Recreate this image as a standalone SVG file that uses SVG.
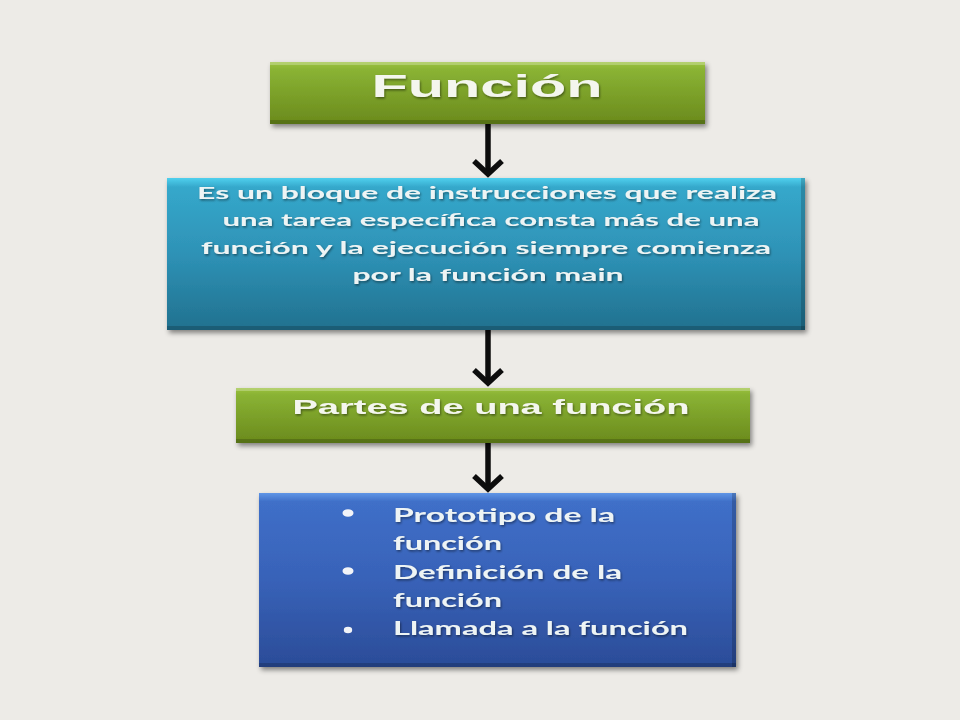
<svg xmlns="http://www.w3.org/2000/svg" width="960" height="720" viewBox="0 0 960 720">
  <defs>
    <linearGradient id="gGreen" x1="0" y1="0" x2="0" y2="1">
      <stop offset="0" stop-color="#9cc23f"/>
      <stop offset="0.12" stop-color="#8ab334"/>
      <stop offset="1" stop-color="#6a8a1c"/>
    </linearGradient>
    <linearGradient id="gTeal" x1="0" y1="0" x2="0" y2="1">
      <stop offset="0" stop-color="#4fd0ee"/>
      <stop offset="0.06" stop-color="#35a8cb"/>
      <stop offset="0.5" stop-color="#2e92b6"/>
      <stop offset="1" stop-color="#21718f"/>
    </linearGradient>
    <linearGradient id="gBlue" x1="0" y1="0" x2="0" y2="1">
      <stop offset="0" stop-color="#5f95e6"/>
      <stop offset="0.05" stop-color="#3f6fc8"/>
      <stop offset="0.5" stop-color="#3862b8"/>
      <stop offset="1" stop-color="#2b4c98"/>
    </linearGradient>
    <filter id="shadow" x="-5%" y="-10%" width="112%" height="130%">
      <feDropShadow dx="2" dy="3" stdDeviation="2.5" flood-color="#000" flood-opacity="0.45"/>
    </filter>
    <filter id="tshadow" x="-5%" y="-20%" width="110%" height="150%">
      <feDropShadow dx="1" dy="1.5" stdDeviation="0.8" flood-color="#000" flood-opacity="0.45"/>
    </filter>
    <marker id="chev" markerUnits="userSpaceOnUse" viewBox="-18 -18 22 36" markerWidth="22" markerHeight="36" refX="0" refY="0" orient="auto">
      <path d="M-13,-14 L0,0 L-13,14" fill="none" stroke="#0d0d0d" stroke-width="5.5" stroke-linejoin="miter"/>
    </marker>
  </defs>
  <style>
    .box { filter: url(#shadow); }
    .hl { fill: #ffffff; opacity: 0.25; }
    .dk { fill: #000000; opacity: 0.18; }
    .title { font-family: "Liberation Sans", Arial, sans-serif; font-weight: bold; fill: #f4f6ee; filter: url(#tshadow); }
    .body { font-family: Lato, "Open Sans", sans-serif; font-weight: bold; fill: #eef4f4; filter: url(#tshadow); }
    .conn { stroke: #0d0d0d; stroke-width: 5.5; fill: none; marker-end: url(#chev); }
    .bullet { fill: #f2f4f8; }
  </style>
  <rect width="960" height="720" fill="#edebe7"/>

  <g id="connectors">
    <path class="conn" d="M488 124 V174"/>
    <path class="conn" d="M488 330 V383"/>
    <path class="conn" d="M488 443 V489"/>
  </g>

  <g id="node-funcion">
    <rect class="box" x="270" y="62" width="435" height="62" fill="url(#gGreen)"/>
    <rect class="hl" x="270" y="62" width="435" height="3"/>
    <rect class="dk" x="270" y="120" width="435" height="4"/>
    <text class="title" x="487" y="97" font-size="31" text-anchor="middle" textLength="231" lengthAdjust="spacingAndGlyphs">Función</text>
  </g>

  <g id="node-definicion">
    <rect class="box" x="167" y="178" width="638" height="152" fill="url(#gTeal)"/>
    <rect class="dk" x="167" y="326" width="638" height="4"/>
    <rect class="dk" x="801" y="178" width="4" height="152"/>
    <g class="body" font-size="17" text-anchor="middle">
      <text x="487" y="199" textLength="580" lengthAdjust="spacingAndGlyphs">Es un bloque de instrucciones que realiza</text>
      <text x="491" y="226" textLength="537" lengthAdjust="spacingAndGlyphs">una tarea específica consta más de una</text>
      <text x="486" y="254" textLength="570" lengthAdjust="spacingAndGlyphs">función y la ejecución siempre comienza</text>
      <text x="488" y="281" textLength="271" lengthAdjust="spacingAndGlyphs">por la función main</text>
    </g>
  </g>

  <g id="node-partes">
    <rect class="box" x="236" y="388" width="514" height="55" fill="url(#gGreen)"/>
    <rect class="hl" x="236" y="388" width="514" height="3"/>
    <rect class="dk" x="236" y="439" width="514" height="4"/>
    <text class="title" x="491" y="414" font-size="21" text-anchor="middle" textLength="397" lengthAdjust="spacingAndGlyphs">Partes de una función</text>
  </g>

  <g id="node-lista">
    <rect class="box" x="259" y="493" width="477" height="174" fill="url(#gBlue)"/>
    <rect class="dk" x="259" y="663" width="477" height="4"/>
    <rect class="dk" x="732" y="493" width="4" height="174"/>
    <ellipse class="bullet" cx="348" cy="513" rx="5.5" ry="3.8"/>
    <ellipse class="bullet" cx="348" cy="571" rx="5.5" ry="3.8"/>
    <ellipse class="bullet" cx="348" cy="630" rx="4.2" ry="3.3"/>
    <g class="body" font-size="19">
      <text x="393" y="522" textLength="222" lengthAdjust="spacingAndGlyphs">Prototipo  de la</text>
      <text x="393" y="550" textLength="109" lengthAdjust="spacingAndGlyphs">función</text>
      <text x="393" y="579" textLength="229" lengthAdjust="spacingAndGlyphs">Definición de la</text>
      <text x="393" y="607" textLength="109" lengthAdjust="spacingAndGlyphs">función</text>
      <text x="393" y="635" textLength="295" lengthAdjust="spacingAndGlyphs">Llamada a la función</text>
    </g>
  </g>
</svg>
